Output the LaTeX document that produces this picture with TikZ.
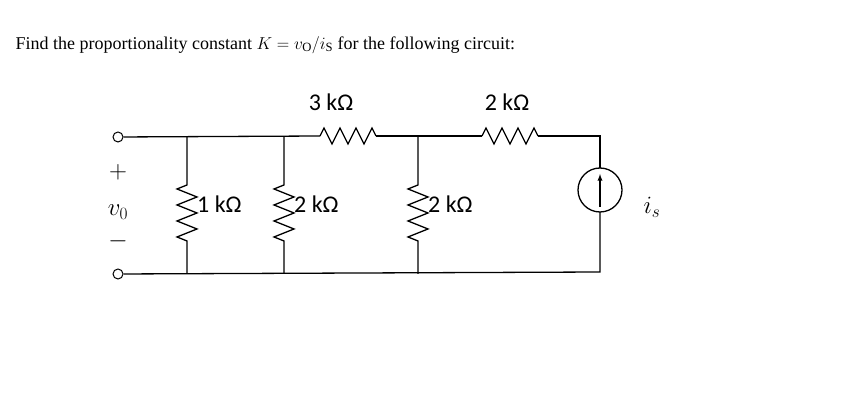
\documentclass[tikz,border=0pt]{standalone}
\usepackage{fontspec}
\setmainfont{Liberation Serif}
\newfontfamily\lbl{Carlito}
\tikzset{
  wire/.style={line width=1.3pt},
  lab/.style={font=\lbl\fontsize{24}{24}\selectfont, inner sep=1pt},
  sym/.style={font=\fontsize{24}{24}\selectfont},
  term/.style={circle, draw, line width=1pt, minimum size=10pt, inner sep=0pt, fill=white}
}
\newcommand\vresist[1]{\draw[wire] (#1) -- ++(0,48) -- ++(-10,4) -- ++(20,8) -- ++(-20,8) -- ++(20,8) -- ++(-20,8) -- ++(20,8) -- ++(-20,8) -- ++(10,4) -- ++(0,33);}
\newcommand\hresist[1]{\draw[wire] (#1) -- ++(4,-8) -- ++(8,16) -- ++(8,-16) -- ++(8,16) -- ++(8,-16) -- ++(8,16) -- ++(8,-16) -- ++(4,8);}
\begin{document}
\begin{tikzpicture}[x=1pt,y=-1pt]
\useasboundingbox (0,0) rectangle (841,411);
\node[anchor=west, font=\fontsize{18}{18}\selectfont] (title) at (12,45)
  {Find the proportionality constant $K = v_{\mathrm{O}}/i_{\mathrm{S}}$ for the following circuit:};
\node[term] (t1) at (118,137) {};
\node[term] (t2) at (118,274) {};
\coordinate (r1) at (187,137);
\coordinate (r2) at (284,137);
\coordinate (r3) at (418,137);
\coordinate (h1) at (320,136);
\coordinate (h2) at (482,136);
% wires
\draw[wire] (t1) -- (h1);
\draw[wire] (376,136) -- (h2);
\draw[wire] (538,136) -- (600,136) -- (600,168);
\draw[wire] (600,212) -- (600,272) -- (t2);
\vresist{r1}
\vresist{r2}
\vresist{r3}
\hresist{h1}
\hresist{h2}
% source
\node[circle, draw, line width=1.3pt, minimum size=44pt, inner sep=0pt] (src) at (600,190) {};
\draw[wire, -latex] (600,207) -- (600,174);
% labels
\node[lab] (l3) at (331,102) {3 kΩ};
\node[lab] (l4) at (507,102) {2 kΩ};
\node[lab, anchor=west] (l1) at (196,204) {1 kΩ};
\node[lab, anchor=west] (l2) at (293,204) {2 kΩ};
\node[lab, anchor=west] (l5) at (427,204) {2 kΩ};
\node[sym] (is) at (652,207) {$i_s$};
\node[sym] (pl) at (118,172) {$+$};
\node[sym] (vo) at (118,212) {$v_0$};
\node[sym] (mi) at (118,241) {$-$};
\end{tikzpicture}
\end{document}
